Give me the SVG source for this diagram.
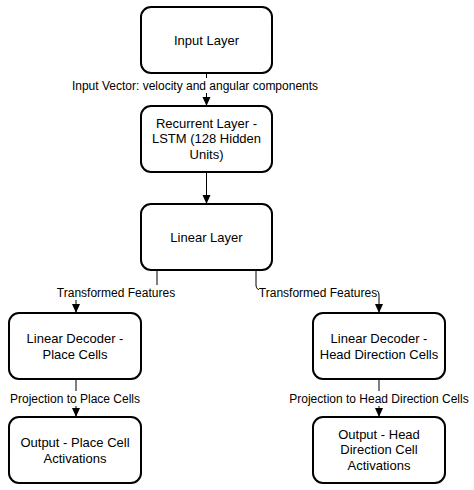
<svg xmlns="http://www.w3.org/2000/svg" width="474" height="490" viewBox="0 0 474 490">
<defs>
<style>
.node rect{fill:#fff;stroke:#000;stroke-width:2}
.node text{font-family:"Liberation Sans",Arial,sans-serif;font-size:13px;fill:#000;text-anchor:middle}
.edge{fill:none;stroke:#000;stroke-width:1}
.lbl{font-family:"Liberation Sans",Arial,sans-serif;font-size:12px;fill:#000;text-anchor:middle}
.lblbg{fill:#fff}
</style>
<marker id="arr" markerUnits="userSpaceOnUse" markerWidth="10" markerHeight="10" viewBox="0 0 10 10" refX="9" refY="5" orient="auto">
<path d="M0,1 L9,5 L0,9 Z" fill="#000"/>
</marker>
</defs>
<rect width="474" height="490" fill="#fff"/>
<g id="connectors">
<path class="edge" d="M206.5,73 V106" marker-end="url(#arr)"/>
<path class="edge" d="M206.5,172 V204" marker-end="url(#arr)"/>
<path class="edge" d="M157,270 V290 H76 V313" marker-end="url(#arr)"/>
<path class="edge" d="M256,270 V285 Q256,290 261,290 H374 Q379,290 379,295 V313" marker-end="url(#arr)"/>
<path class="edge" d="M76,379 V417" marker-end="url(#arr)"/>
<path class="edge" d="M379,379 V417" marker-end="url(#arr)"/>
<rect class="lblbg" x="71" y="78" width="248" height="15"/>
<text class="lbl" x="195" y="89.5">Input Vector: velocity and angular components</text>
<rect class="lblbg" x="56" y="285" width="120" height="15"/>
<text class="lbl" x="116" y="296.5">Transformed Features</text>
<rect class="lblbg" x="259" y="285" width="118" height="15"/>
<text class="lbl" x="318" y="296.5">Transformed Features</text>
<rect class="lblbg" x="9" y="391" width="134" height="15"/>
<text class="lbl" x="75" y="402.5">Projection to Place Cells</text>
<rect class="lblbg" x="288" y="391" width="182" height="15"/>
<text class="lbl" x="379" y="402.5">Projection to Head Direction Cells</text>
</g>
<g id="input-layer" class="node">
<rect x="141" y="7" width="131" height="66" rx="10"/>
<text x="206.5" y="44.5">Input Layer</text>
</g>
<g id="recurrent-layer" class="node">
<rect x="141" y="106" width="131" height="66" rx="10"/>
<text x="206.5" y="127.5">Recurrent Layer -</text>
<text x="206.5" y="143">LSTM (128 Hidden</text>
<text x="206.5" y="158.5">Units)</text>
</g>
<g id="linear-layer" class="node">
<rect x="141" y="204" width="131" height="66" rx="10"/>
<text x="206.5" y="241.5">Linear Layer</text>
</g>
<g id="decoder-place" class="node">
<rect x="9" y="313" width="132" height="66" rx="10"/>
<text x="75" y="342.5">Linear Decoder -</text>
<text x="75" y="358.5">Place Cells</text>
</g>
<g id="decoder-head" class="node">
<rect x="313" y="313" width="132" height="66" rx="10"/>
<text x="379" y="342.5">Linear Decoder -</text>
<text x="379" y="358.5">Head Direction Cells</text>
</g>
<g id="output-place" class="node">
<rect x="9" y="417" width="132" height="66" rx="10"/>
<text x="75" y="446.5">Output - Place Cell</text>
<text x="75" y="462.5">Activations</text>
</g>
<g id="output-head" class="node">
<rect x="313" y="417" width="132" height="66" rx="10"/>
<text x="379" y="438.5">Output - Head</text>
<text x="379" y="454">Direction Cell</text>
<text x="379" y="470">Activations</text>
</g>
</svg>
